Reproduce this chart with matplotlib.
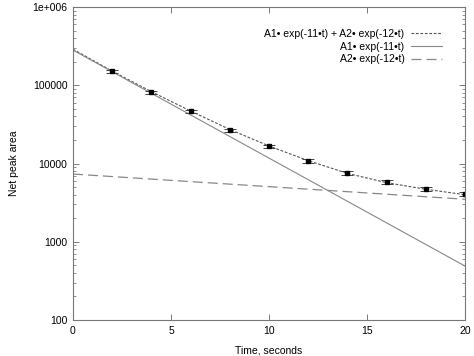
import numpy as np
import matplotlib
matplotlib.use("Agg")
import matplotlib.pyplot as plt
from matplotlib.ticker import LogLocator, NullFormatter

plt.rcParams['font.family'] = ['Liberation Sans', 'DejaVu Sans']
plt.rcParams['font.size'] = 7

# measured points
t_data = [2, 4, 6, 8, 10, 12, 14, 16, 18, 20]
area_data = [152000, 82000, 46900, 26800, 16700, 10800, 7560, 5800, 4720, 4070]
area_err = [7000, 3500, 2000, 1200, 800, 500, 400, 300, 250, 250]

# fitted curves
t_sum = [0, 2, 4, 6, 8, 10, 12, 14, 16, 18, 20]
area_sum = [290000, 152000, 83000, 47000, 27300, 16800, 10900, 7500, 5700, 4700, 4000]
t_fast = [0, 20]
area_fast = [282000, 490]
t_slow = [0, 20]
area_slow = [7350, 3500]

labels = ["A1\u2022 exp(-11\u2022t) + A2\u2022 exp(-12\u2022t)",
          "A1\u2022 exp(-11\u2022t)",
          "A2\u2022 exp(-12\u2022t)"]

fig = plt.figure(figsize=(4.74, 3.56), dpi=100)
ax = fig.add_axes([0.154, 0.101, 0.827, 0.879])

l1, = ax.plot(t_sum, area_sum, color="#555555", lw=0.8, dashes=(2.5, 1.5))
l2, = ax.plot(t_fast, area_fast, color="#888888", lw=0.8)
l3, = ax.plot(t_slow, area_slow, color="#888888", lw=0.9, dashes=(8, 4))
ax.errorbar(t_data, area_data, yerr=area_err, fmt="s", color="black",
            ms=3.2, ecolor="#444444", elinewidth=0.7, capsize=4, capthick=0.7)

ax.set_yscale("log")
ax.set_xlim(0, 20)
ax.set_ylim(100, 1e6)
ax.set_xticks([0, 5, 10, 15, 20])
ax.set_yticks([100, 1000, 10000, 100000, 1e6])
ax.set_yticklabels(["100", "1000", "10000", "100000", "1e+006"])
ax.yaxis.set_minor_locator(LogLocator(base=10, subs=np.arange(2, 10)))
ax.yaxis.set_minor_formatter(NullFormatter())
ax.tick_params(which="both", direction="in", top=True, right=True,
               color="#666666", labelsize=7.5)
ax.tick_params(which="major", length=4, width=0.6, pad=4)
ax.tick_params(which="minor", length=2, width=0.5)
for s in ax.spines.values():
    s.set_color("#777777")
    s.set_linewidth(0.8)

ax.set_xlabel("Time, seconds", fontsize=7.5, labelpad=7)
ax.set_ylabel("Net peak area", fontsize=7.5, labelpad=10)

leg = ax.legend([l1, l2, l3], labels, loc="upper right", frameon=False,
                markerfirst=False, fontsize=7.5, handlelength=3.0,
                handletextpad=0.6, labelspacing=0.25,
                bbox_to_anchor=(0.965, 0.96))
for txt in leg.get_texts():
    txt.set_ha("right")
leg._legend_box.align = "right"

fig.savefig("out.png", dpi=100)
